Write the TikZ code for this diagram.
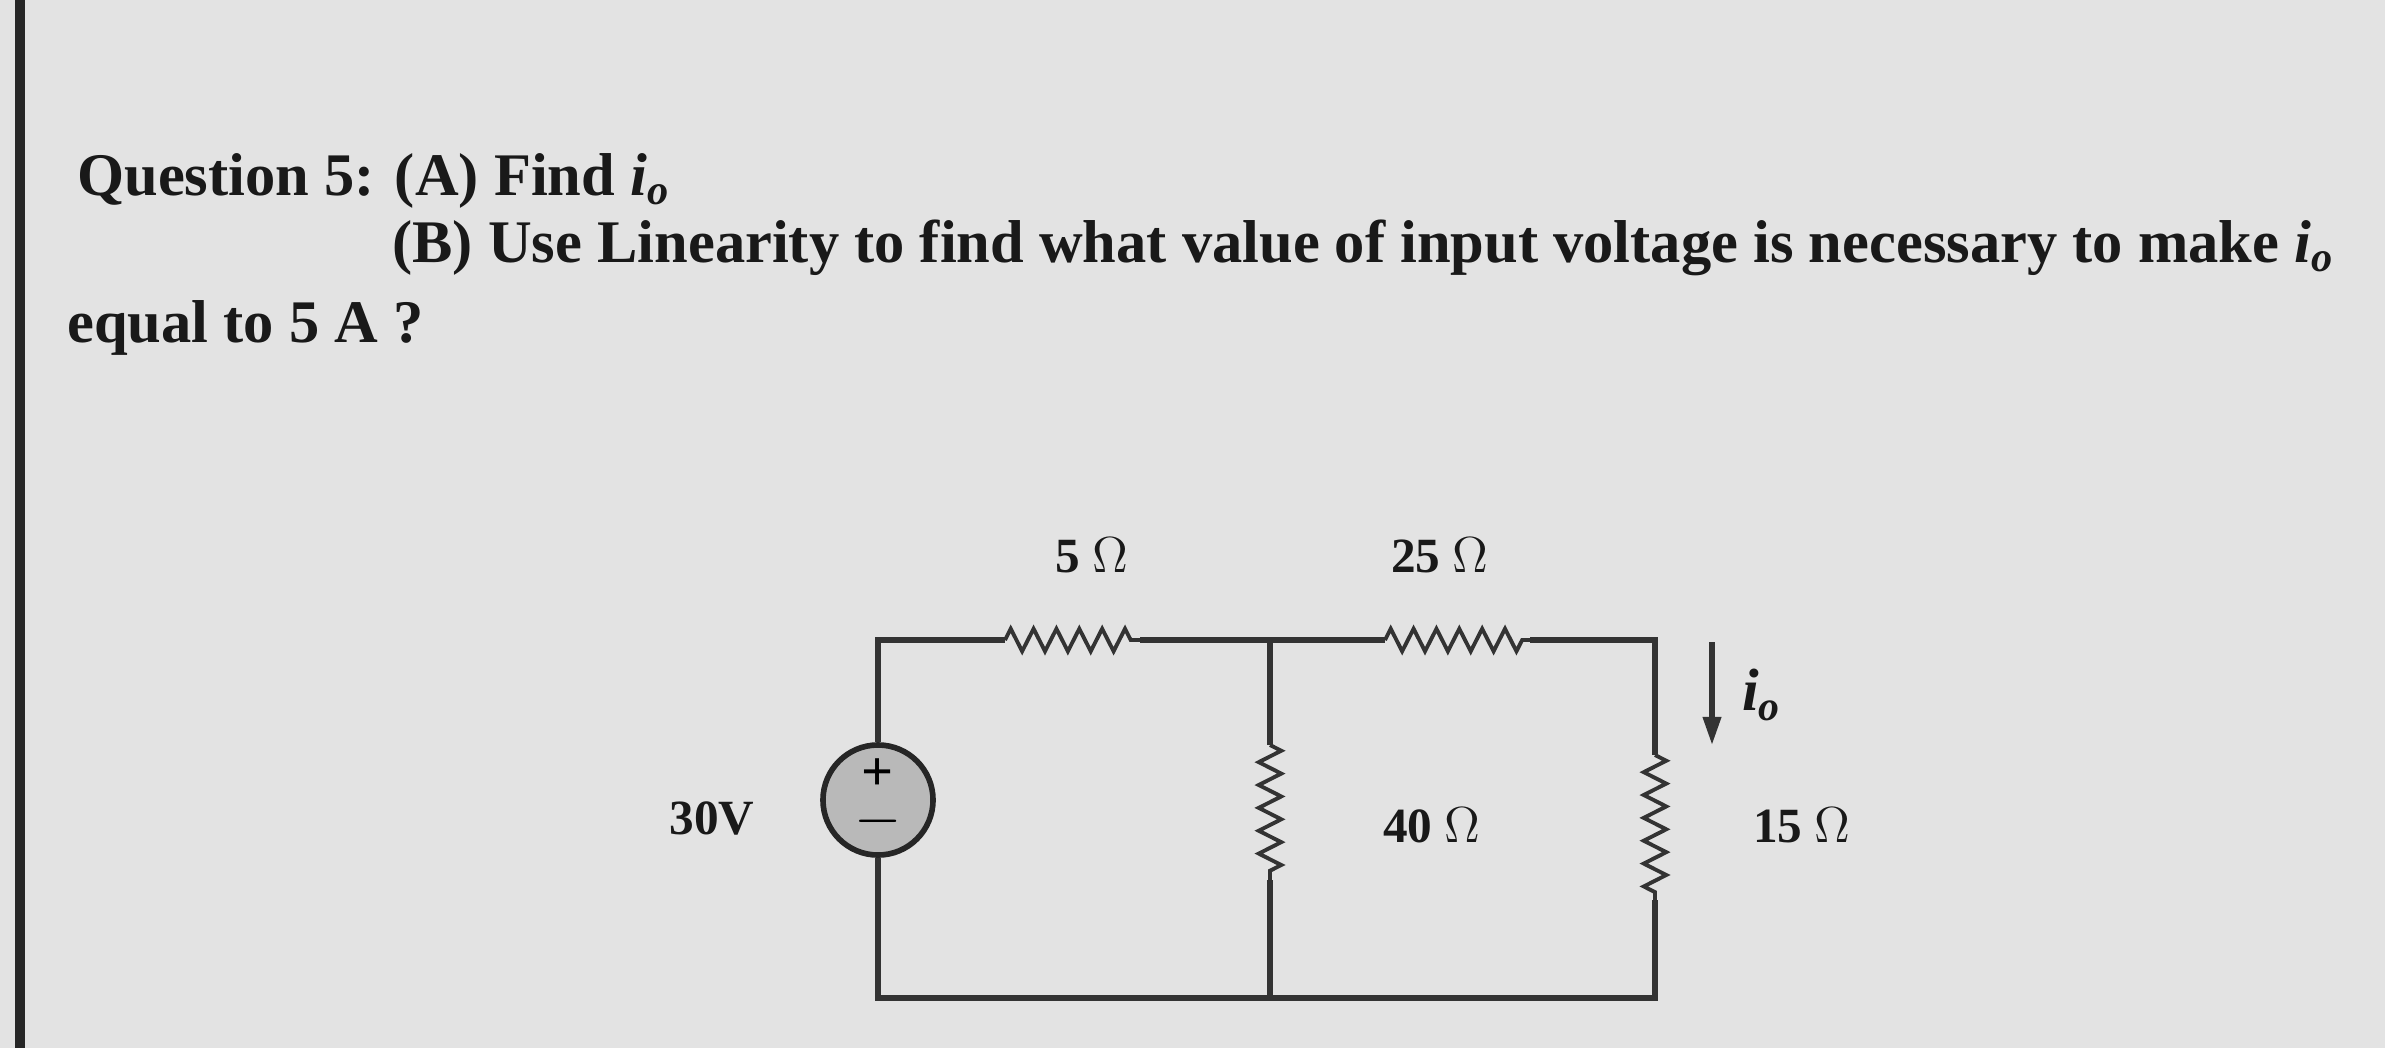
\documentclass[tikz,border=0pt]{standalone}
\usepackage{fontspec}
\setmainfont{Liberation Serif}
\usetikzlibrary{decorations.pathmorphing,arrows.meta}
\begin{document}
\begin{tikzpicture}[x=0.01cm,y=-0.01cm,
  wire/.style={line width=1.6pt,black!80},
  res/.style={wire,line width=1.1pt,decorate,decoration={zigzag,segment length=6.5pt,amplitude=3.2pt}},
  qtext/.style={anchor=base west,font=\fontsize{17.2}{20}\selectfont\bfseries,text=black!90},
  clab/.style={font=\fontsize{14}{16}\selectfont\bfseries,text=black!90}]
\fill[gray!22] (0,0) rectangle (2385,1048);
\useasboundingbox (0,0) rectangle (2385,1048);
\draw[line width=3pt,black!85] (20,0) -- (20,1048);
\node[qtext] (q1) at (65,195) {Question 5: (A) Find \textit{i\textsubscript{o}}};
\node[qtext] (q2) at (380,262) {(B) Use Linearity to find what value of input voltage is necessary to make \textit{i\textsubscript{o}}};
\node[qtext] (q3) at (55,342) {equal to 5 A ?};
\coordinate (tl) at (878,640); \coordinate (tm) at (1270,640); \coordinate (tr) at (1655,640);
\coordinate (bl) at (878,998); \coordinate (bm) at (1270,998); \coordinate (br) at (1655,998);
\coordinate (r1a) at (1005,640); \coordinate (r1b) at (1140,640);
\coordinate (r2a) at (1385,640); \coordinate (r2b) at (1530,640);
\coordinate (r3a) at (1270,745); \coordinate (r3b) at (1270,880);
\coordinate (r4a) at (1655,755); \coordinate (r4b) at (1655,900);
\node[circle,draw=black!85,line width=1.6pt,fill=gray!55,minimum size=1.1cm,inner sep=0pt,
  font=\fontsize{16}{13}\selectfont\bfseries,align=center] (src) at (878,800) {+\\$-$};
\draw[wire] (src.north) -- (tl) -- (r1a);
\draw[res] (r1a) -- (r1b);
\draw[wire] (r1b) -- (tm) -- (r2a);
\draw[res] (r2a) -- (r2b);
\draw[wire] (r2b) -- (tr) -- (r4a);
\draw[res] (r4a) -- (r4b);
\draw[wire] (r4b) -- (br) -- (bl) -- (src.south);
\draw[wire] (tm) -- (r3a);
\draw[res] (r3a) -- (r3b);
\draw[wire] (r3b) -- (bm);
\node[clab] (l5) at (1092,555) {5 $\Omega$};
\node[clab] (l25) at (1440,555) {25 $\Omega$};
\node[clab] (l30) at (712,818) {30V};
\node[clab] (l40) at (1432,825) {40 $\Omega$};
\node[clab] (l15) at (1802,825) {15 $\Omega$};
\coordinate (ia) at (1712,642); \coordinate (ib) at (1712,745);
\draw[line width=1.5pt,black!80,-{Triangle[length=8pt,width=5pt]}] (ia) -- (ib);
\node[clab,font=\fontsize{17}{17}\selectfont\bfseries\itshape] (io) at (1762,695) {i\textsubscript{o}};
\end{tikzpicture}
\end{document}
